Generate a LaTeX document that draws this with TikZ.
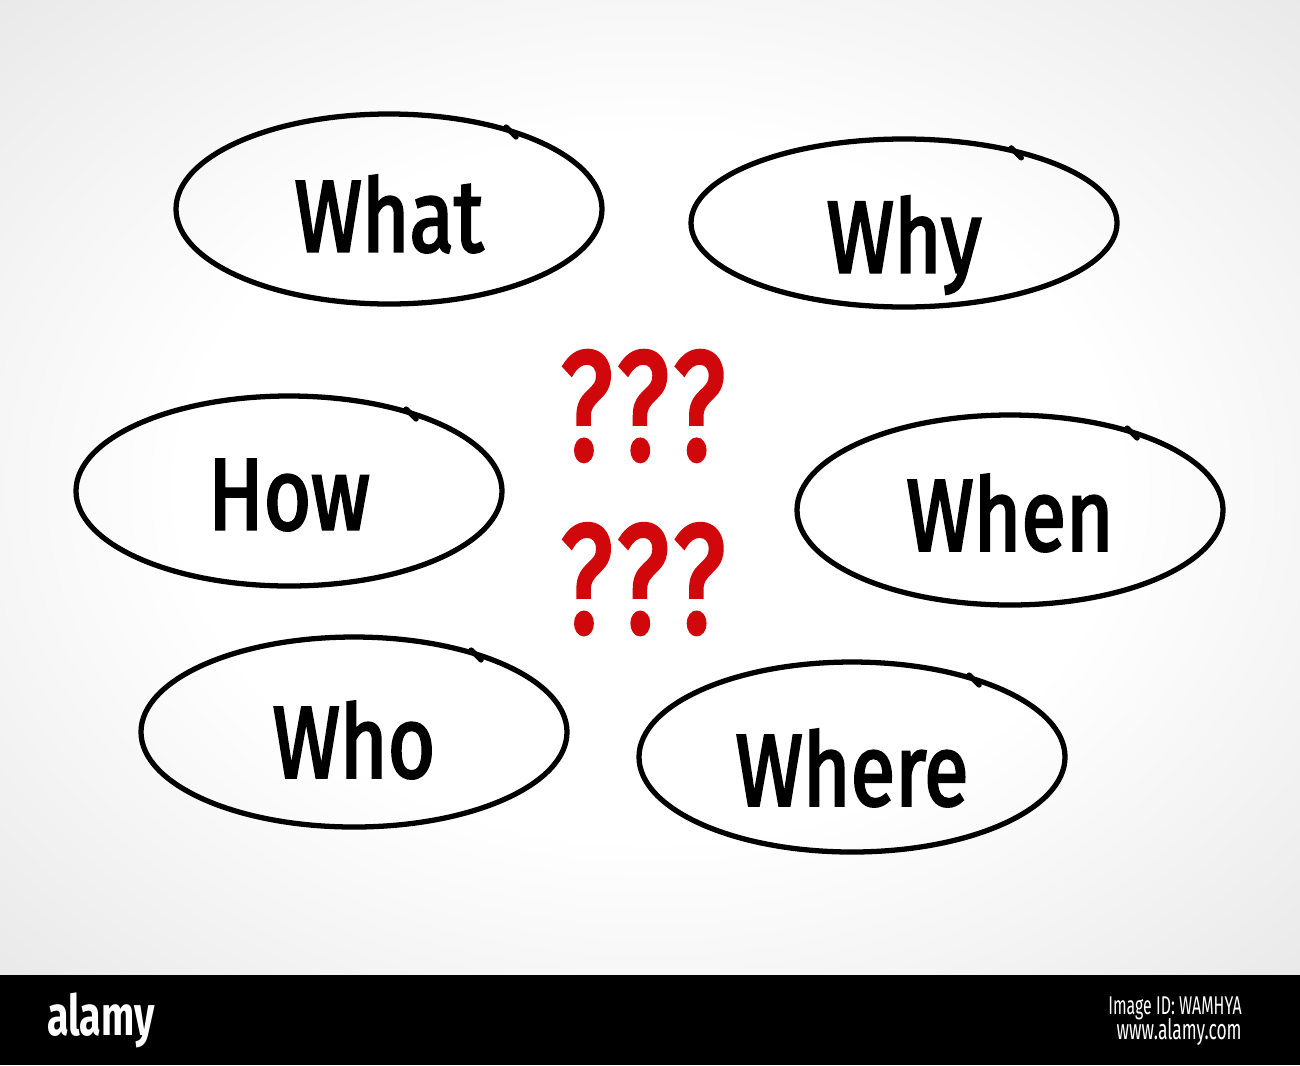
\documentclass[tikz,border=0pt]{standalone}
\usepackage{fontspec}
\newfontfamily\handfont[FakeStretch=0.8,FakeBold=2.4]{Fira Sans}
\newfontfamily\questfont[FakeStretch=0.72,FakeBold=2.8,LetterSpace=6]{Fira Sans}
\newfontfamily\tagfont[FakeStretch=0.7]{Fira Sans}
\newfontfamily\smalltagfont[FakeStretch=0.62]{Fira Sans}
\usetikzlibrary{shapes.geometric,positioning}
\definecolor{qred}{RGB}{208,8,12}
\definecolor{edgegray}{RGB}{186,186,186}
\pgfdeclareradialshading{vignette}{\pgfpoint{0bp}{0bp}}{color(0bp)=(white); color(18bp)=(white); color(50bp)=(edgegray!58!white); color(72bp)=(edgegray)}

\begin{document}
\begin{tikzpicture}[
	oval/.style={ellipse, draw=black, line width=1.5pt, minimum width=4.26cm,
	minimum height=1.9cm, inner sep=0pt},
	ovaltail/.style={black, line width=1.5pt, line cap=round},
	word/.style={font=\handfont\fontsize{29}{34}\selectfont},
	quest/.style={font=\questfont\fontsize{44}{50}\selectfont, text=qred}
	]
	\useasboundingbox (0,0) rectangle (13,-10.65);
	\shade[shading=vignette] (0,0) rectangle (13,-9.75);
	\fill[black] (0,-9.75) rectangle (13,-10.65);

	% ovals
	\node[oval] (whatoval) at (3.89,-2.09) {};
	\node[oval, minimum height=1.68cm] (whyoval) at (9.04,-2.23) {};
	\node[oval] (howoval) at (2.89,-4.91) {};
	\node[oval] (whenoval) at (10.10,-5.10) {};
	\node[oval] (whooval) at (3.54,-7.32) {};
	\node[oval] (whereoval) at (8.52,-7.57) {};

	\foreach \o in {whatoval,whyoval,howoval,whenoval,whooval,whereoval}
		\draw[ovaltail] (\o.35) -- ++(0.1,-0.1);

	% words
	\node[word] (what) at ([yshift=-0.05cm]whatoval.center) {What};
	\node[word] (why) at ([yshift=-0.22cm]whyoval.center) {Why};
	\node[word] (how) at ([yshift=-0.04cm]howoval.center) {How};
	\node[word] (when) at ([yshift=-0.03cm]whenoval.center) {When};
	\node[word] (who) at ([yshift=-0.08cm]whooval.center) {Who};
	\node[word] (where) at ([yshift=-0.11cm]whereoval.center) {Where};

	% question marks
	\node[quest] (qtop) at (6.43,-4.06) {???};
	\node[quest] (qbottom) [below=0.38cm of qtop] {???};

	% footer
	\node[text=white, font=\tagfont\bfseries\fontsize{16}{18}\selectfont]
		(logo) at (1.01,-10.2) {alamy};
	\node[text=white, font=\smalltagfont\fontsize{7.3}{9}\selectfont, anchor=east]
		(imageid) at (12.54,-10.08) {Image ID: WAMHYA};
	\node[text=white, font=\smalltagfont\fontsize{8}{10}\selectfont, anchor=east]
		(site) at (12.54,-10.32) {www.alamy.com};
\end{tikzpicture}
\end{document}
